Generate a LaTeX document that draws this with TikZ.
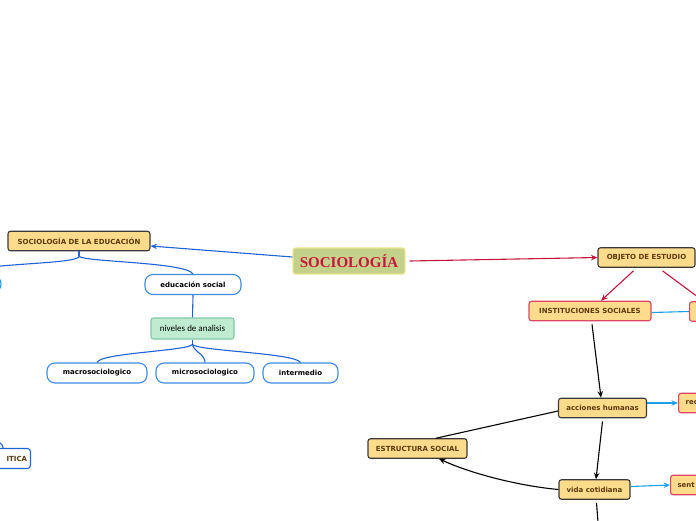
\documentclass[tikz,border=0pt]{standalone}
\usepackage{fontspec}
\setmainfont{DejaVu Sans}
\newfontfamily\titlefont{Liberation Serif}
\newfontfamily\narrowfont{Carlito}
\usetikzlibrary{arrows.meta}
\definecolor{topicfill}{HTML}{FFDB8C}
\definecolor{topictext}{HTML}{5A3A0C}
\definecolor{darkline}{HTML}{3A3A3A}
\definecolor{redline}{HTML}{C8143C}
\definecolor{pinkline}{HTML}{DC4664}
\definecolor{blueline}{HTML}{1E64D2}
\definecolor{skyline}{HTML}{1CA0E6}
\definecolor{pillline}{HTML}{3C8CE6}
\definecolor{olivefill}{HTML}{C4D18A}
\definecolor{olivebord}{HTML}{E8E88C}
\definecolor{greenfill}{HTML}{BFEBD0}
\definecolor{greenbord}{HTML}{82C8A8}
\begin{document}
\begin{tikzpicture}[x=1pt, y=-1pt, line width=1.1pt,
main node/.style={draw=darkline, fill=topicfill, rounded corners=2.5pt, minimum height=19.5pt, inner xsep=7pt, inner ysep=0pt, font=\bfseries\fontsize{7}{8}\selectfont, text=topictext},
red node/.style={main node, draw=pinkline},
pill node/.style={draw=pillline, fill=white, rounded corners=8pt, minimum height=20pt, inner ysep=0pt, font=\bfseries\fontsize{7}{8}\selectfont, text=black},
tip/.style={-{Stealth[length=6.5pt,width=5.5pt]}}]
\useasboundingbox (0,0) rectangle (696,520);
\begin{scope}
\node[draw=olivebord, fill=olivefill, rounded corners=2.5pt, minimum width=112pt, minimum height=26pt, text=redline, font=\titlefont\bfseries\fontsize{15}{17}\selectfont] (soc) at (349,261) {SOCIOLOGÍA};
\node[main node, minimum width=142pt] (edu) at (79,241) {SOCIOLOGÍA DE LA EDUCACIÓN};
\node[pill node, minimum width=96pt] (eds) at (193,284.5) {educación social};
\node[draw=greenbord, fill=greenfill, rounded corners=2.5pt, minimum width=83pt, minimum height=21pt, inner ysep=0pt, font=\narrowfont\fontsize{9}{10}\selectfont] (niv) at (192.5,328.5) {niveles de analisis};
\node[pill node, minimum width=100pt] (mac) at (97,373) {macrosociologico};
\node[pill node, minimum width=98pt] (mic) at (205,373) {microsociologico};
\node[pill node, minimum width=75pt] (int) at (300.5,373) {intermedio};
\node[pill node, draw=blueline, rounded corners=3pt, text=topictext, text width=66pt, align=right, anchor=east] (pol) at (31,458.5) {ITICA};
\node[pill node, draw=skyline, anchor=east, minimum width=60pt, minimum height=17pt] (lft) at (1.5,284) {};
\node[main node, minimum width=97pt] (obj) at (646.5,257.5) {OBJETO DE ESTUDIO};
\node[red node, minimum width=122pt] (ins) at (590,311) {INSTITUCIONES SOCIALES};
\node[red node, anchor=west, minimum width=80pt] (cul) at (689,311.5) {};
\node[main node, minimum width=88pt] (acc) at (602.5,408) {acciones humanas};
\node[red node, anchor=west, text width=60pt, align=left] (rec) at (678,403) {rec};
\node[main node, minimum width=99pt] (est) at (417.5,448.5) {ESTRUCTURA SOCIAL};
\node[main node, minimum width=71pt] (vid) at (594.5,489.5) {vida cotidiana};
\node[red node, anchor=west, text width=60pt, align=left] (sen) at (670,485) {sent};
\coordinate (eduleft) at (-4,266.5);
\coordinate (poltop) at (-12,441);
\coordinate (culin) at (706,303);
\coordinate (vidout) at (598,522);
\end{scope}
\begin{scope}
% left branch
\draw[tip, blueline] (soc.west) ++(0,-4) -- (edu.east |- 0,246);
\draw[blueline] (edu.south) -- ++(0,5) coordinate (e1);
\draw[blueline] (e1) .. controls (79,262) and (30,263) .. (eduleft);
\draw[blueline] (e1) .. controls (84,262) and (186,262) .. (eds.north);
\draw[blueline] (poltop) .. controls (0,441) and (3,444) .. (pol.north -| 3,0);
\draw[blueline] (eds.south) -- (niv.north);
\draw[blueline] (niv.south) -- ++(0,5) coordinate (n1);
\draw[blueline] (n1) .. controls (186,351) and (100,353) .. (mac.north);
\draw[blueline] (n1) .. controls (194,352) and (205,354) .. (mic.north);
\draw[blueline] (n1) .. controls (199,351) and (295,353) .. (int.north);
% right branch
\draw[tip, redline] (soc.east) ++(4,0) -- (obj.west);
\draw[tip, redline] (obj.south) ++(-13,3) -- (ins.north -| 601,0);
\draw[redline] (obj.south) ++(16,3) -- (culin);
\draw[skyline] (ins.east) ++(0,1.5) -- (cul.west);
\draw[tip, black] (ins.south) ++(2,3) -- (acc.north -| 601,0);
\draw[tip, skyline] (acc.east) ++(0,-5) -- (rec.west);
\draw[black] (acc.west) ++(0,3) -- (est.north -| 436,0);
\draw[tip, black] (acc.south) ++(0,3) -- (vid.north -| 596,0);
\draw[tip, black] (vid.west) .. controls (520,486) and (472,474) .. (est.south -| 439,0);
\draw[tip, skyline] (vid.east) ++(0,-3) -- (sen.west);
\draw[black] (vid.south) ++(2,3) -- (vidout);
\end{scope}
\end{tikzpicture}
\end{document}
